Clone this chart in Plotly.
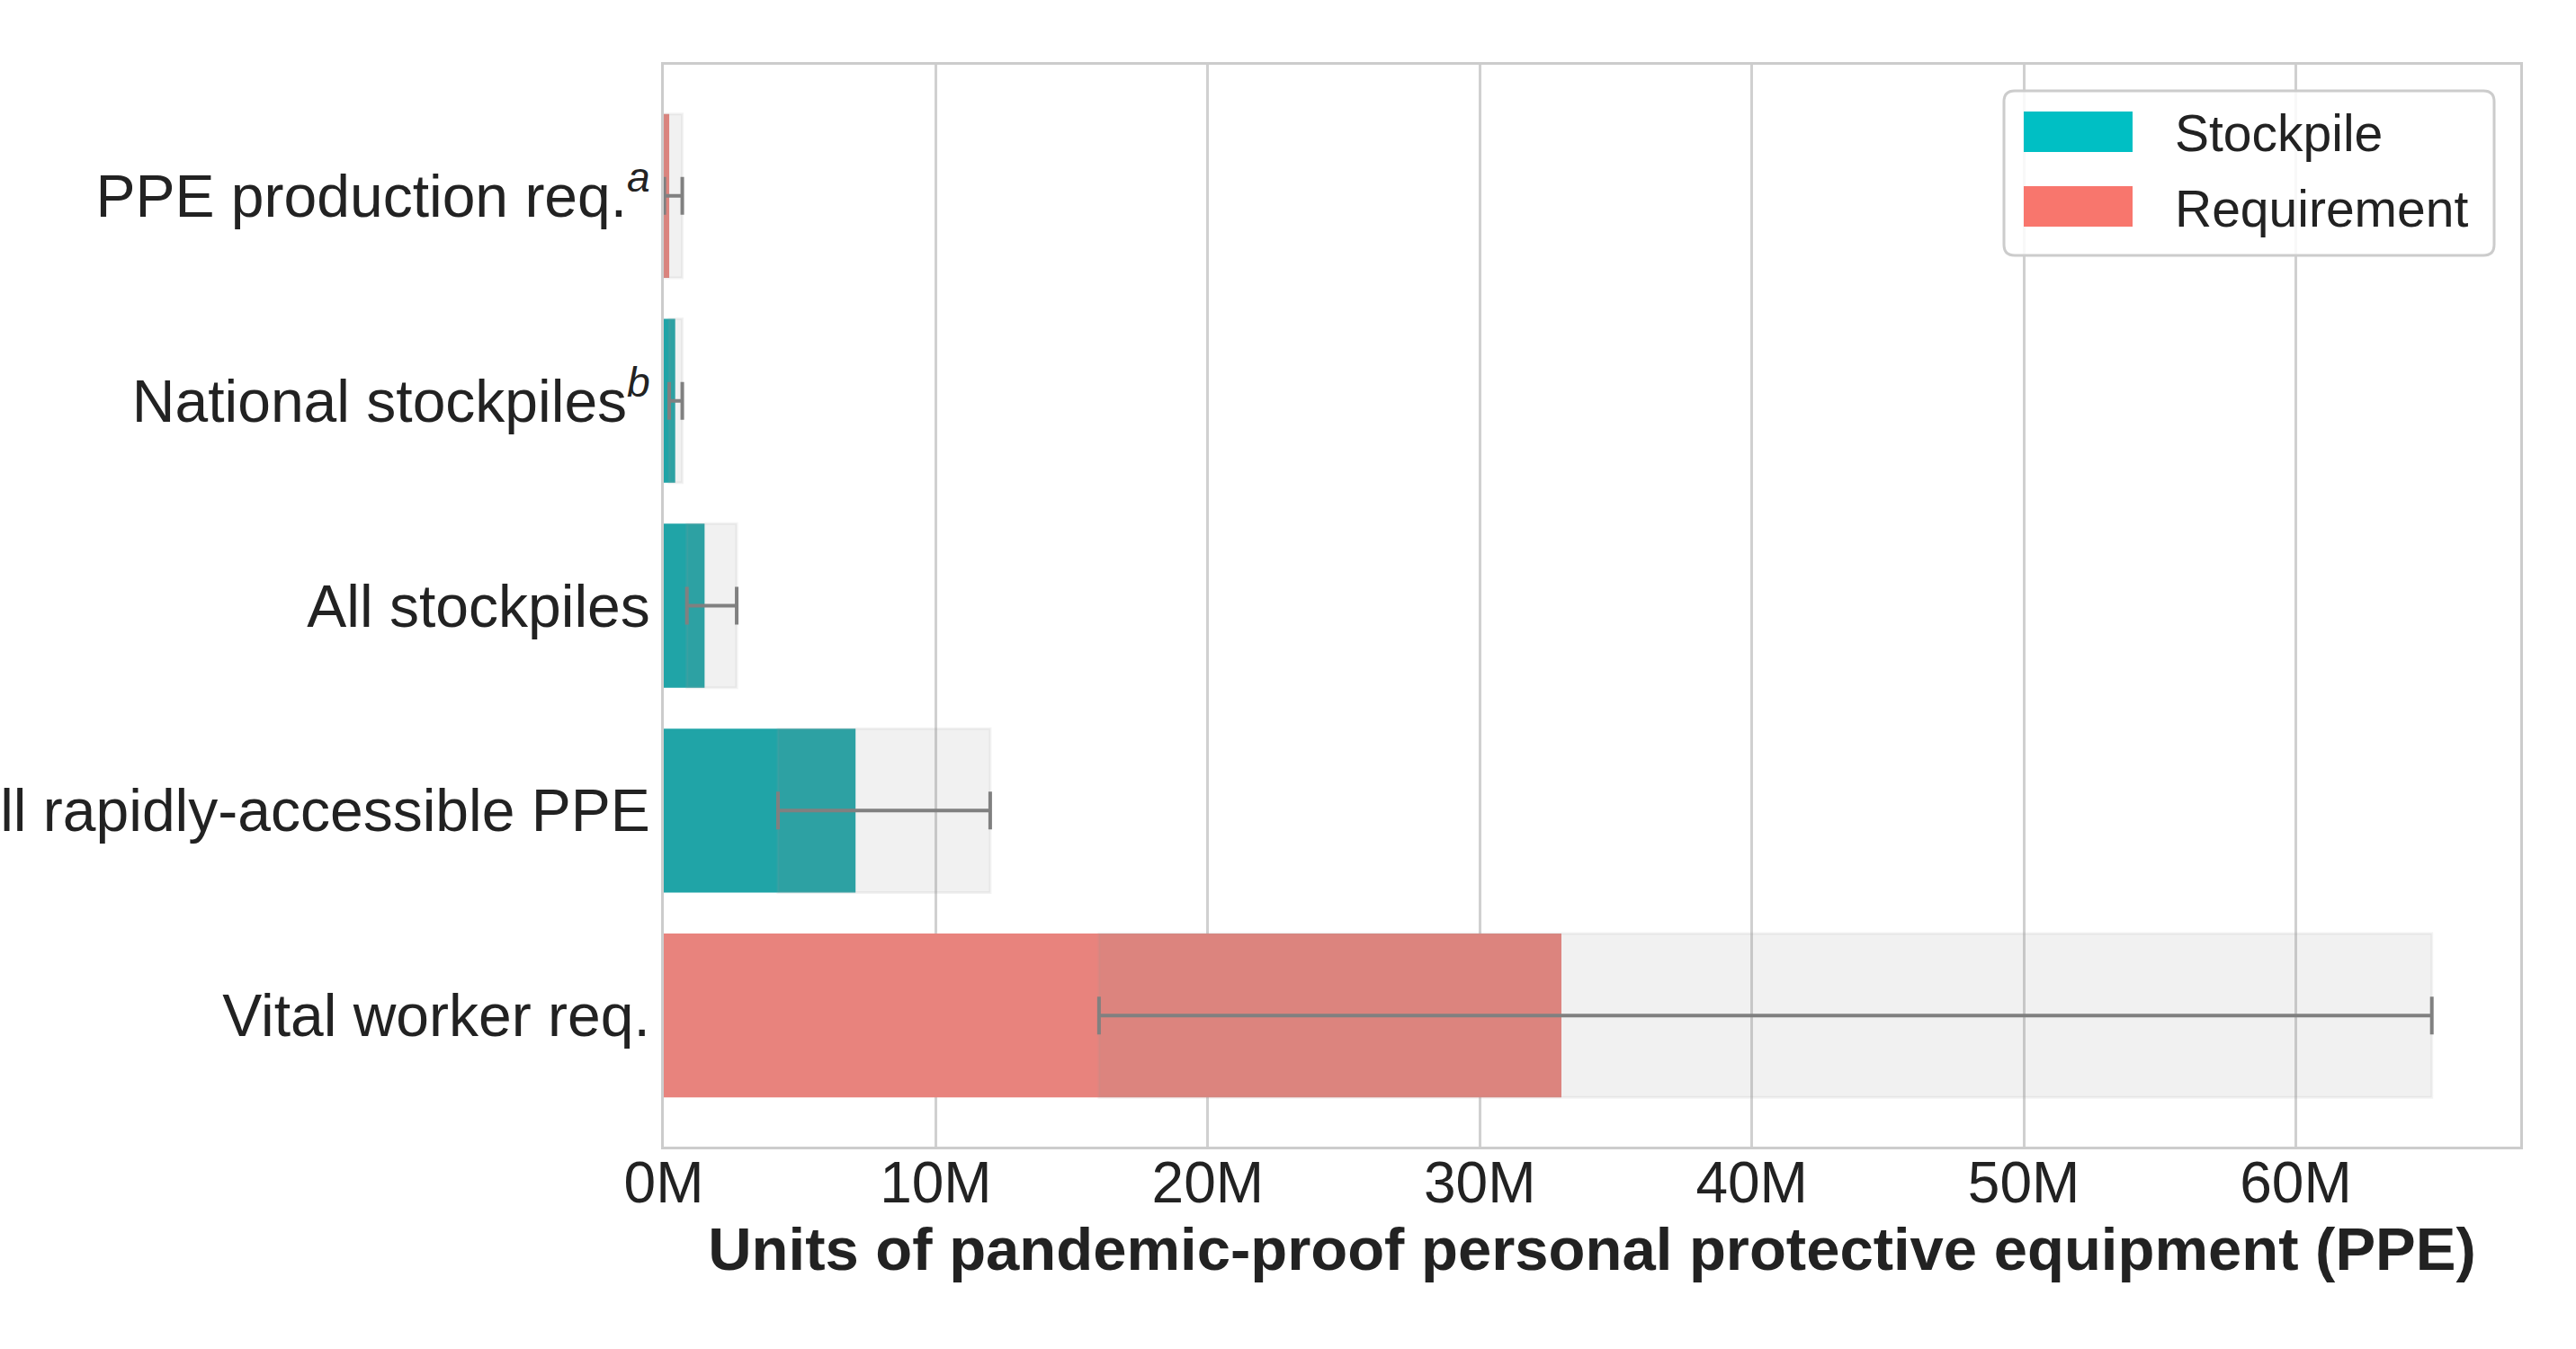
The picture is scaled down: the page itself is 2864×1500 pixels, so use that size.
import plotly.graph_objects as go

# ---- data ----
categories = [
    "PPE production req.<sup><i>a</i></sup>",
    "National stockpiles<sup><i>b</i></sup>",
    "All stockpiles",
    "All rapidly-accessible PPE",
    "Vital worker req.",
]
kinds = ["Requirement", "Stockpile", "Stockpile", "Stockpile", "Requirement"]
central = [0.2e6, 0.42e6, 1.5e6, 7.05e6, 33.0e6]
lower = [0.02e6, 0.2e6, 0.85e6, 4.2e6, 16.0e6]
upper = [0.68e6, 0.68e6, 2.68e6, 12.0e6, 65.0e6]

tick_vals = [0, 10e6, 20e6, 30e6, 40e6, 50e6, 60e6]
tick_text = ["0M", "10M", "20M", "30M", "40M", "50M", "60M"]

legend_names = ["Stockpile", "Requirement"]
legend_colors = ["#00bfc4", "#f8766d"]
bar_colors = {"Stockpile": "#20a4a7", "Requirement": "#e8837d"}

x_title = "Units of pandemic-proof personal protective equipment (PPE)"

# ---- geometry (pixels) ----
W, H = 2864, 1500
L, R, T, B = 738, 2802, 72, 1275
FONT = "Liberation Sans, Arial, Helvetica, sans-serif"
TXT = "#222222"


def px2x(px):
    return (px - L) / (R - L)


def px2y(py):
    return (B - py) / (B - T)


fig = go.Figure()

# main bars, one trace per kind
for kind in legend_names:
    ys = [c for c, k in zip(categories, kinds) if k == kind]
    xs = [v for v, k in zip(central, kinds) if k == kind]
    fig.add_trace(go.Bar(
        x=xs, y=ys, orientation="h", width=0.8,
        marker=dict(color=bar_colors[kind], line=dict(width=0)),
        name=kind, showlegend=False,
    ))

# uncertainty range shading (lower -> upper)
fig.add_trace(go.Bar(
    x=[u - l for u, l in zip(upper, lower)], base=lower, y=categories,
    orientation="h", width=0.8,
    marker=dict(color="rgba(140,140,140,0.12)",
                line=dict(color="rgba(160,160,160,0.12)", width=3)),
    showlegend=False, hoverinfo="skip",
))

# error bars centred on the central value
fig.add_trace(go.Scatter(
    x=central, y=categories, mode="markers",
    marker=dict(size=1, color="rgba(0,0,0,0)"),
    error_x=dict(type="data", symmetric=False,
                 array=[u - c for u, c in zip(upper, central)],
                 arrayminus=[c - l for c, l in zip(central, lower)],
                 color="#808080", thickness=4, width=21),
    showlegend=False,
))

n = len(categories)
fig.update_layout(
    width=W, height=H,
    margin=dict(l=L, r=W - R, t=T, b=H - B, autoexpand=False),
    paper_bgcolor="white", plot_bgcolor="white",
    barmode="overlay", bargap=0.2,
    font=dict(family=FONT, color=TXT),
    showlegend=False,
    xaxis=dict(
        range=[0, 68.25e6], tickvals=tick_vals, ticktext=tick_text,
        tickfont=dict(size=64, color=TXT, family=FONT),
        showgrid=True, gridcolor="#d0d0d0", gridwidth=2.5,
        zeroline=False, showline=True, linecolor="#cccccc", linewidth=3,
        mirror=True, ticks="", automargin=False, ticklabelstandoff=-18,
        title=dict(text="<b>" + x_title + "</b>",
                   font=dict(size=67, color=TXT, family=FONT), standoff=12),
    ),
    yaxis=dict(
        type="category", categoryorder="array", categoryarray=categories,
        range=[n - 1 + 0.64, -0.64],
        tickfont=dict(size=66, color=TXT, family=FONT),
        showgrid=False, zeroline=False, showline=True, linecolor="#cccccc",
        linewidth=3, mirror=True, ticks="", automargin=False,
        ticklabelstandoff=-1,
    ),
)

# ---- hand-made legend (wide swatches, rounded frame) ----
bx0, bx1, by0, by1, rad = 2228, 2773, 101, 284, 12
X0, X1 = px2x(bx0), px2x(bx1)
Y0, Y1 = px2y(by1), px2y(by0)
rx, ry = rad / (R - L), rad / (B - T)
path = (f"M{X0+rx},{Y0} L{X1-rx},{Y0} Q{X1},{Y0} {X1},{Y0+ry} "
        f"L{X1},{Y1-ry} Q{X1},{Y1} {X1-rx},{Y1} L{X0+rx},{Y1} "
        f"Q{X0},{Y1} {X0},{Y1-ry} L{X0},{Y0+ry} Q{X0},{Y0} {X0+rx},{Y0} Z")
fig.add_shape(type="path", path=path, xref="paper", yref="paper",
              fillcolor="rgba(255,255,255,0.85)",
              line=dict(color="#cccccc", width=3), layer="above")
sw_top = [124, 207]
for name, col, top in zip(legend_names, legend_colors, sw_top):
    fig.add_shape(type="rect", xref="paper", yref="paper",
                  x0=px2x(2250), x1=px2x(2371), y0=px2y(top + 45), y1=px2y(top),
                  fillcolor=col, line=dict(width=0), layer="above")
    fig.add_annotation(x=px2x(2416), y=px2y(top + 22.5 + 2), xref="paper",
                       yref="paper", text=name, showarrow=False,
                       xanchor="left", yanchor="middle",
                       font=dict(size=57, color=TXT, family=FONT))

fig.write_html("out.html")
